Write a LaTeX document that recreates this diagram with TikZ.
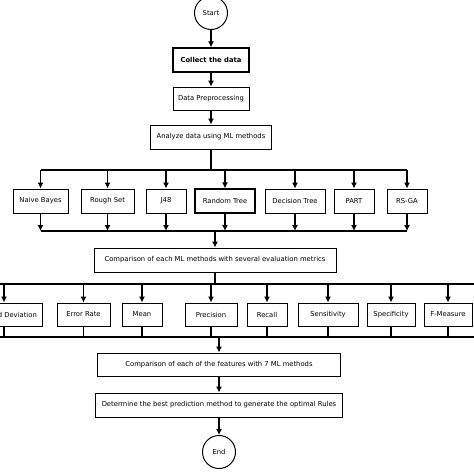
\documentclass[tikz,border=0pt]{standalone}
\usepackage{fontspec}
\setmainfont{DejaVu Sans}
\usetikzlibrary{arrows.meta,positioning}

\begin{document}
\begin{tikzpicture}[x=1pt, y=-1pt,
    box/.style={draw, line width=1pt, minimum height=24pt, inner sep=1pt, align=center, font=\fontsize{6.8}{8}\selectfont},
    term/.style={draw, circle, line width=1pt, minimum size=33pt, inner sep=0pt, font=\fontsize{6.8}{8}\selectfont},
    arr/.style={-{Latex[length=6pt, width=6pt]}, line width=1.1pt},
    ln/.style={line width=1.1pt}
]
\clip (0,0) rectangle (474,474);
\useasboundingbox (0,0) rectangle (474,474);
% top column
\node[term] (start) at (211,13) {Start};
\node[box, minimum width=76pt, line width=1.3pt] (collect) at (211,60) {\bfseries Collect the data};
\node[box, minimum width=76pt, minimum height=23pt] (prep) at (211,98.5) {Data Preprocessing};
\node[box, minimum width=121pt] (analyze) at (211,137) {Analyze data using ML methods};
% ML methods
\node[box, minimum width=55pt] (nb) at (40.5,201) {Naive Bayes};
\node[box, minimum width=53pt] (rs) at (107.5,201) {Rough Set};
\node[box, minimum width=40pt] (jf) at (166,201) {J48};
\node[box, minimum width=60pt, line width=1.3pt] (rt) at (225,201) {Random Tree};
\node[box, minimum width=60pt] (dt) at (295,201) {Decision Tree};
\node[box, minimum width=40pt] (part) at (354,201) {PART};
\node[box, minimum width=40pt] (rsga) at (407,201) {RS-GA};
\node[box, minimum width=242pt] (cmpml) at (215,260) {Comparison of each ML methods with several evaluation metrics};
% evaluation metrics
\node[box, minimum width=76pt, minimum height=23pt] (sd) at (4,314.5) {Standard Deviation};
\node[box, minimum width=53pt, minimum height=23pt] (er) at (83.5,314.5) {Error Rate};
\node[box, minimum width=40pt, minimum height=23pt] (mean) at (142,314.5) {Mean};
\node[box, minimum width=52pt, minimum height=23pt] (prec) at (211,314.5) {Precision};
\node[box, minimum width=40pt, minimum height=23pt] (rec) at (267,314.5) {Recall};
\node[box, minimum width=60pt, minimum height=23pt] (sens) at (328,314.5) {Sensitivity};
\node[box, minimum width=48pt, minimum height=23pt] (spec) at (391,314.5) {Specificity};
\node[box, minimum width=48pt, minimum height=23pt] (fm) at (448,314.5) {F-Measure};
% bottom column
\node[box, minimum width=243pt, minimum height=23pt] (cmpft) at (219,364.5) {Comparison of each of the features with 7 ML methods};
\node[box, minimum width=247pt] (best) at (219,405) {Determine the best prediction method to generate the optimal Rules};
\node[term] (end) at (219,452) {End};
% junction points
\coordinate (mlsplit) at (211,170);
\coordinate (mljoin) at (215,231);
\coordinate (evsplit) at (215,284);
\coordinate (evjoin) at (219,337);
\draw[arr] (start) -- (collect);
\draw[arr] (collect) -- (prep);
\draw[arr] (prep) -- (analyze);
\draw[ln] (analyze) -- (mlsplit);
\draw[ln] (nb |- mlsplit) -- (rsga |- mlsplit);
\foreach \m in {nb,rs,jf,rt,dt,part,rsga}{
  \draw[arr] (\m |- mlsplit) -- (\m);
  \draw[arr] (\m) -- (\m |- mljoin);
}
\draw[ln] (nb |- mljoin) -- (rsga |- mljoin);
\draw[arr] (mljoin) -- (cmpml);
\draw[ln] (cmpml) -- (evsplit);
\draw[ln] (0,284) -- (474,284);
\foreach \m in {sd,er,mean,prec,rec,sens,spec,fm}{
  \draw[arr] (\m |- evsplit) -- (\m);
  \draw[ln] (\m) -- (\m |- evjoin);
}
\draw[ln] (0,337) -- (474,337);
\draw[arr] (evjoin) -- (cmpft);
\draw[arr] (cmpft) -- (best);
\draw[arr] (best) -- (end);
\end{tikzpicture}
\end{document}
